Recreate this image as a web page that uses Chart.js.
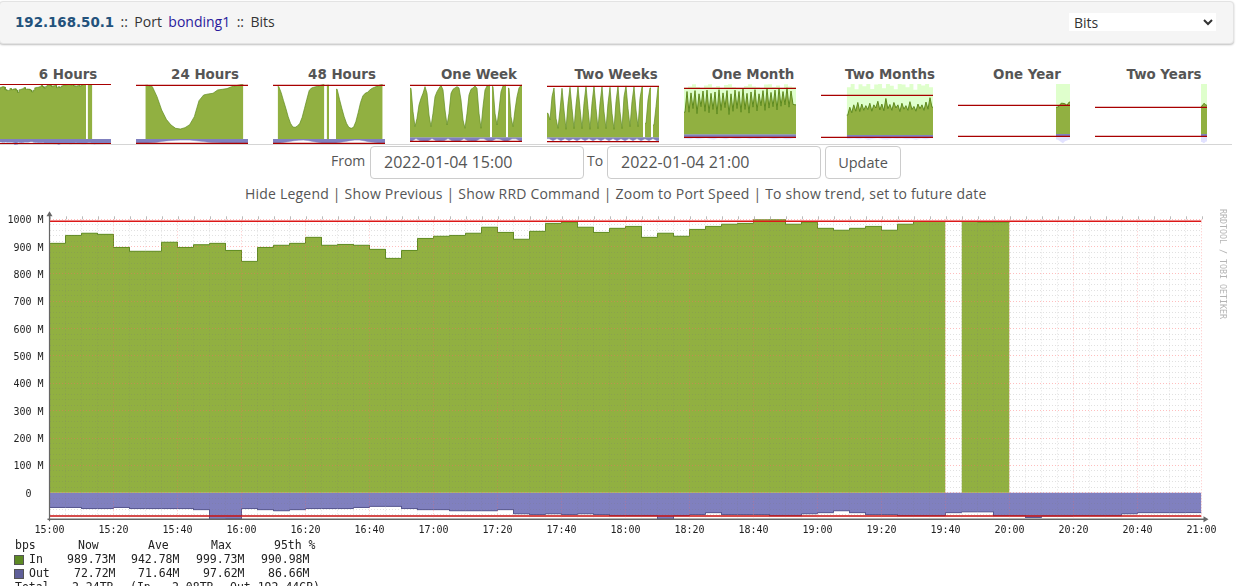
<!DOCTYPE html>
<html lang="en">
<head>
<meta charset="UTF-8" />
<title>192.168.50.1 :: Port bonding1 :: Bits</title>
<script src="https://cdn.jsdelivr.net/npm/chart.js"></script>
<style>
  html, body { margin: 0; padding: 0; width: 1244px; height: 586px; overflow: hidden; background: #fff; }
  body { position: relative; font-family: "Open Sans", sans-serif; font-size: 14px; color: #555; }
  .abs { position: absolute; white-space: nowrap; }
  #header { left: -1px; top: 1px; width: 1233px; height: 41px; background: #f5f5f5; border: 1px solid #e3e3e3;
    border-radius: 4px; box-shadow: 0 1px 2px rgba(0,0,0,.25); }
  #crumb { left: 15px; top: 13px; font-size: 14px; line-height: 18px; color: #333; word-spacing: 2.8px; }
  #crumb b { font-family: "DejaVu Sans", sans-serif; color: #23527c; font-size: 13.4px; word-spacing: 0; }
  #crumb a { color: #2a1a9c; }
  #selectBox { left: 1069px; top: 13px; width: 147px; height: 18px; background: #fff; }
  select { left: 1069px; top: 11px; width: 147px; height: 22px; border: 0; background: transparent; padding: 0 0 0 1px;
    font: 14px "Open Sans", sans-serif; color: #333; }
  .thumb-title { top: 66px; width: 137px; text-align: center; font: bold 13.4px "DejaVu Sans", sans-serif; color: #555; line-height: 17px; }
  .thumb { position: absolute; top: 84px; width: 112px; height: 62px; }
  #rule { left: 0; top: 144px; width: 1232px; height: 1px; background: #d5d5d5; }
  .field { top: 146px; height: 31px; border: 1px solid #ccc; border-radius: 4px; background: #fff; line-height: 31px;
    color: #555; box-sizing: content-box; }
  .lbl { top: 152px; line-height: 18px; }
  #links { left: 245px; top: 184px; line-height: 19px; letter-spacing: .21px; }
  #chartWrap { position: absolute; left: 0; top: 205px; width: 1244px; height: 335px; }
  #credit { left: 1218px; top: 209px; writing-mode: vertical-rl; font: 8.3px "DejaVu Sans Mono", monospace; color: #b4b4b4; }
  .leg { font: 11.5px/14px "DejaVu Sans Mono", monospace; color: #222; }
  .swatch { position: absolute; left: 14px; width: 8px; height: 8px; border: 1px solid #555; }
</style>
</head>
<body>
  <div id="header" class="abs"></div>
  <div id="crumb" class="abs"><b>192.168.50.1</b> :: Port <a>bonding1</a> :: Bits</div>
  <div id="selectBox" class="abs"></div>
  <select class="abs"><option>Bits</option></select>

  <div id="rule" class="abs"></div>
  <div class="abs lbl" style="left:331px">From</div>
  <div class="abs field" style="left:370px;width:199px;padding-left:13px;font-size:16px">2022-01-04 15:00</div>
  <div class="abs lbl" style="left:587px">To</div>
  <div class="abs field" style="left:607px;width:199px;padding-left:13px;font-size:16px">2022-01-04 21:00</div>
  <div class="abs field" style="left:825px;width:74px;text-align:center;font-size:14.5px">Update</div>
  <div id="links" class="abs">Hide Legend | Show Previous | Show RRD Command | Zoom to Port Speed | To show trend, set to future date</div>

  <div id="chartWrap"><canvas id="mainChart" width="1244" height="335"></canvas></div>
  <div id="credit" class="abs">RRDTOOL / TOBI OETIKER</div>

  <div class="abs leg" style="left:15px;top:538px">bps</div>
  <div class="abs leg" style="left:78px;top:538px">Now</div>
  <div class="abs leg" style="left:148px;top:538px">Ave</div>
  <div class="abs leg" style="left:211px;top:538px">Max</div>
  <div class="abs leg" style="left:274px;top:538px">95th %</div>
  <div class="swatch" style="top:555px;background:#5d8a23"></div>
  <div class="abs leg" style="left:29px;top:552px">In</div>
  <div class="abs leg" style="left:67px;top:552px">989.73M</div>
  <div class="abs leg" style="left:131px;top:552px">942.78M</div>
  <div class="abs leg" style="left:196px;top:552px">999.73M</div>
  <div class="abs leg" style="left:261px;top:552px">990.98M</div>
  <div class="swatch" style="top:569px;background:#5f5f99"></div>
  <div class="abs leg" style="left:29px;top:566px">Out</div>
  <div class="abs leg" style="left:74px;top:566px">72.72M</div>
  <div class="abs leg" style="left:138px;top:566px">71.64M</div>
  <div class="abs leg" style="left:203px;top:566px">97.62M</div>
  <div class="abs leg" style="left:268px;top:566px">86.66M</div>
  <div class="abs leg" style="left:15px;top:580px">Total</div>
  <div class="abs leg" style="left:72px;top:580px">2.24TB</div>
  <div class="abs leg" style="left:130px;top:580px">(In</div>
  <div class="abs leg" style="left:172px;top:580px">2.08TB</div>
  <div class="abs leg" style="left:230px;top:580px">Out 192.44GB)</div>

<script>
  // main graph, one value per 5 minutes, null = no data
  const xLabels = ['15:00','15:20','15:40','16:00','16:20','16:40','17:00','17:20','17:40','18:00','18:20','18:40','19:00','19:20','19:40','20:00','20:20','20:40','21:00'];
  const inBits = [912,941,949,945,897,883,883,916,897,907,912,886,846,897,905,912,934,905,908,905,890,857,886,930,
    938,941,949,971,952,927,956,985,990,971,952,967,974,934,949,938,963,974,982,985,999.7,999,982,990,967,960,
    967,974,960,982,992,992,null,992,990,990,null,null,null,null,null,null,null,null,null,null,null,null];
  const outBits = [54,54,58,58,54,58,58,58,58,62,97.6,96,58,62,66,62,58,58,58,54,50,50,58,62,
    62,66,66,66,62,77,80,77,80,77,80,84,84,84,97,84,80,73,80,80,80,84,84,77,73,66,
    73,80,80,84,84,84,73,70,70,84,84,91,85,85,84,84,84,77,73,73,73,72.72];
  const inPct = 993;
  const outPct = 85;

  // thumbnails
  const thumbTitles = ['6 Hours','24 Hours','48 Hours','One Week','Two Weeks','One Month','Two Months','One Year','Two Years'];
  const thumbYMax = [1000,1024,1024,1025,1045,1093,1285,1742,1873];
  const thumbYMin = [-127,-130,-130,-167,-170,-254,-277,-418,-449];
  const thumbInPct = [991,1000,1000,1000,1000,1000,1000,1000,1000];
  const thumbOutPct = [82,81,81,77,86,65,58,80,86];
  const thumbStart = [0,0,0,0,0,0,0.23,0.875,0.946];

  const inDay = [null,null,1000,975,789,540,366,261,199,186,211,267,416,714,820,839,851,913,925,938,975,994,1012,null];
  const outDay = [78,75,72,70,60,45,35,28,22,20,19,20,28,38,48,58,65,70,72,74,75,78,78,78];

  const in2Day = [null,null,975,863,714,571,416,292,224,217,242,292,404,571,739,901,950,963,975,988,1000,1012,null,1000,
    null,null,null,925,739,571,416,292,217,199,217,323,490,677,801,851,870,913,944,963,981,1000,1012,null];
  const out2Day = [78,72,60,45,32,22,20,28,45,60,72,78,80,75,60,45,30,20,19,32,50,62,72,78];

  const inWeek = [942,494,205,365,622,750,846,974,846,429,205,462,782,878,942,1000,910,526,237,462,846,923,949,974,949,718,333,173,
    462,814,923,949,987,942,462,173,590,910,987,1000,null,974,462,237,526,878,987,1000,null,942,397,205,526,782,949,1000];
  const outWeek = [70,25,65,70,70,25,65,70,65,25,65,70,70,25,65,70,70,28,30,70,70,28,35,70,70,30,30,70];

  const in2Week = [471,340,797,967,373,176,536,961,536,157,667,980,569,170,634,993,569,170,667,1007,569,157,667,1007,569,170,667,993,
    503,170,667,980,471,157,699,1007,503,170,797,1007,569,209,699,993,536,209,765,993,null,275,732,967,null,242,601,993];
  const out2Week = [25,65,25,68,25,65,28,68,25,66,25,68,28,65,25,68,25,66,28,68,25,65,25,68,30,65,25,68];

  const inMonth = [480,930,480,900,560,950,450,880,600,940,500,960,470,890,540,920,440,970,520,900,580,950,430,880,500,960,560,930,
    480,990,540,890,460,920,590,970,510,880,620,950,520,990,570,910,600,960,530,1000,610,930,640,1010,590,940,650,640];
  const maxMonth = [1010,1040,1090,1030,1000,1060,1090,1020,1050,1000,1070,1090,1030,1010,1000,1050,1090,1040,1020,1000,1080,1090,1030,1060,1000,1090,1040,1020];
  const outMonth = [68,62,66,70,64,62,68,66,70,64,66,62,68,70,64,66,68,62,66,70,64,68,66,62,70,66,64,68];
  const outMaxMonth = [95,110,85,105,90,80,100,112,85,90,105,80,95,110,88,84,100,92,110,86,82,90,105,95,84,110,100,88];

  const in2Month = [500,700,560,760,600,820,590,780,620,740,640,800,600,760,680,850,630,780,610,920,660,770,620,820,680,760,590,800,650,740,620,840,640,720,600,780,660,760,620,830,650,940,700];
  const max2Month = [1200,1285,1150,1280,1230,1285,1160,1270,1285,1180,1285,1240,1150,1285,1270,1200,1285,1140,1285,1250,1285,1200];
  const out2MonthVals = [60,55,62,58,60,64,56,60,58,62,60,56,60,64,58,60,62,56];
  const outMax2Month = [100,85,110,90,120,95,80,105,115,90,100,85,110,95,120,90,105,80];

  const inYear = [930,960,1070,1070,1050,1000,1110];
  const maxYear = [1742,1742,1742,1742,1742,1742,1742];
  const outYear = [78,80,80,82,80,80,78];
  const outMaxYear = [190,230,280,325,250,230,200];

  const in2Year = [1040,1150,1080];
  const max2Year = [1873,1873,1873];
  const out2Year = [85,88,85];
  const outMax2Year = [300,350,280];

  const thumbIn = [inBits,inDay,in2Day,inWeek,in2Week,inMonth,in2Month,inYear,in2Year];
  const thumbOut = [outBits,outDay,out2Day,outWeek,out2Week,outMonth,out2MonthVals,outYear,out2Year];
  const thumbMax = [null,null,null,null,null,maxMonth,max2Month,maxYear,max2Year];
  const thumbOutMax = [null,null,null,null,null,outMaxMonth,outMax2Month,outMaxYear,outMax2Year];

  const inFill = '#91b041';
  const inLine = '#608c20';
  const outFill = '#8080bf';
  const outLine = '#54548f';
  const maxFill = '#dfffcc';
  const outMaxFill = '#e2e2ff';

  // every value holds one slot, a null leaves that slot empty
  function stepPoints(values, start, end, sign) {
    const n = values.length, pts = [];
    values.forEach((v, i) => {
      const a = start + (end - start) * i / n;
      const b = start + (end - start) * (i + 1) / n;
      if (v === null) pts.push({ x: a, y: null });
      else pts.push({ x: a, y: sign * v }, { x: b, y: sign * v });
    });
    return pts;
  }
  // same slots, but joined centre to centre, held flat only up to an empty slot or the ends
  function slopePoints(values, start, end, sign) {
    const n = values.length, pts = [];
    const at = k => start + (end - start) * k / n;
    values.forEach((v, i) => {
      if (v === null) { pts.push({ x: at(i + 0.5), y: null }); return; }
      if (i === 0 || values[i - 1] === null) pts.push({ x: at(i), y: sign * v });
      pts.push({ x: at(i + 0.5), y: sign * v });
      if (i === n - 1 || values[i + 1] === null) pts.push({ x: at(i + 1), y: sign * v });
    });
    return pts;
  }
  function area(data, fill, line, width) {
    return { type: 'line', data, fill: 'origin', backgroundColor: fill, borderColor: line || fill,
      borderWidth: width === undefined ? 1 : width, pointRadius: 0, tension: 0, spanGaps: false };
  }
  function flat(value, start, end, color, width) {
    return { type: 'line', data: [{ x: start, y: value }, { x: end, y: value }], fill: false,
      borderColor: color, borderWidth: width, pointRadius: 0 };
  }

  // y axis arrow, x axis arrow and the small ticks over the top edge
  const axisDecor = {
    id: 'axisDecor',
    afterDraw(chart) {
      const { ctx, chartArea: a, scales } = chart;
      ctx.save();
      ctx.strokeStyle = '#bbb';
      ctx.lineWidth = 1;
      scales.x.ticks.forEach(t => {
        const px = Math.round(scales.x.getPixelForValue(t.value)) + 0.5;
        ctx.beginPath(); ctx.moveTo(px, a.top - 3); ctx.lineTo(px, a.top); ctx.stroke();
      });
      ctx.strokeStyle = '#666';
      ctx.fillStyle = '#666';
      ctx.lineWidth = 1.2;
      ctx.beginPath(); ctx.moveTo(a.left, a.bottom + 2); ctx.lineTo(a.left, a.top - 4); ctx.stroke();
      ctx.lineWidth = 1.5;
      ctx.beginPath(); ctx.moveTo(a.left - 2, a.bottom); ctx.lineTo(a.right + 3, a.bottom); ctx.stroke();
      ctx.beginPath(); ctx.moveTo(a.left, a.top - 8); ctx.lineTo(a.left - 3, a.top - 3); ctx.lineTo(a.left + 3, a.top - 3); ctx.fill();
      ctx.beginPath(); ctx.moveTo(a.right + 7, a.bottom); ctx.lineTo(a.right + 2, a.bottom - 3); ctx.lineTo(a.right + 2, a.bottom + 3); ctx.fill();
      ctx.restore();
    }
  };

  new Chart(document.getElementById('mainChart'), {
    type: 'line',
    data: {
      datasets: [
        flat(inPct, 0, 72, '#dc1818', 1.5),
        flat(-outPct, 0, 72, '#c81010', 1.5),
        area(stepPoints(inBits, 0, 72, 1), inFill, inLine, 1),
        area(stepPoints(outBits, 0, 72, -1), outFill, outLine, 1)
      ]
    },
    options: {
      responsive: false,
      animation: false,
      events: [],
      layout: { padding: { top: 14.3, right: 42.5, left: 0, bottom: 0 } },
      plugins: { legend: { display: false }, tooltip: { enabled: false } },
      scales: {
        x: {
          type: 'linear', min: 0, max: 72,
          afterFit(s) { s.height = 20.7; },
          grid: {
            z: 1, drawTicks: false,
            color: c => c.tick.value % 4 === 0 ? 'rgba(255,100,100,.38)' : 'rgba(120,120,120,.2)'
          },
          border: { display: false, dash: [1, 2] },
          ticks: {
            stepSize: 1, autoSkip: false, maxRotation: 0, padding: 5, color: '#222',
            font: { family: 'DejaVu Sans Mono', size: 10 },
            callback: v => v % 4 === 0 ? xLabels[v / 4] : ''
          }
        },
        y: {
          type: 'linear', min: -97.3, max: 1000,
          afterFit(s) { s.width = 49.5; },
          grid: {
            z: 1, drawTicks: false,
            color: c => c.tick.value % 100 === 0 ? 'rgba(255,100,100,.42)' : 'rgba(120,120,120,.22)'
          },
          border: { display: false, dash: [1, 2] },
          ticks: {
            stepSize: 20, autoSkip: false, padding: 6, color: '#222',
            // the empty first line moves the label down a touch
            font: { family: 'DejaVu Sans Mono', size: 10, lineHeight: '3px' },
            callback: v => v === 0 ? ['', '0  '] : (v > 0 && v % 100 === 0 ? ['', v + ' M'] : '')
          }
        }
      }
    },
    plugins: [axisDecor]
  });

  thumbTitles.forEach((title, i) => {
    const x0 = -1 + 137 * i;
    const head = document.createElement('div');
    head.className = 'abs thumb-title';
    head.style.left = (x0 + 0.5) + 'px';
    head.textContent = title;
    document.body.appendChild(head);

    const canvas = document.createElement('canvas');
    canvas.className = 'thumb';
    canvas.width = 112;
    canvas.height = 62;
    canvas.style.left = x0 + 'px';
    document.body.appendChild(canvas);

    // the 6 hour thumbnail still shows the 5 minute steps
    const pts = i === 0 ? stepPoints : slopePoints;
    const s = thumbStart[i];
    const sets = [
      flat(thumbInPct[i], 0, 1, '#a80000', 1.2),
      flat(-thumbOutPct[i], 0, 1, '#a80000', 1.2),
      area(pts(thumbIn[i], s, 1, 1), inFill, i > 4 ? '#5e8a1e' : inLine, i > 4 ? 1 : 0.7),
      area(pts(thumbOut[i], s, 1, -1), outFill, outFill, 0.5)
    ];
    if (thumbMax[i]) sets.push(area(stepPoints(thumbMax[i], s, 1, 1), maxFill, maxFill, 0));
    if (thumbOutMax[i]) sets.push(area(pts(thumbOutMax[i], s, 1, -1), outMaxFill, outMaxFill, 0));

    new Chart(canvas, {
      type: 'line',
      data: { datasets: sets },
      options: {
        responsive: false,
        animation: false,
        events: [],
        plugins: { legend: { display: false }, tooltip: { enabled: false } },
        scales: {
          x: { type: 'linear', display: false, min: 0, max: 1 },
          y: { type: 'linear', display: false, min: thumbYMin[i], max: thumbYMax[i] }
        }
      }
    });
  });
</script>
</body>
</html>
